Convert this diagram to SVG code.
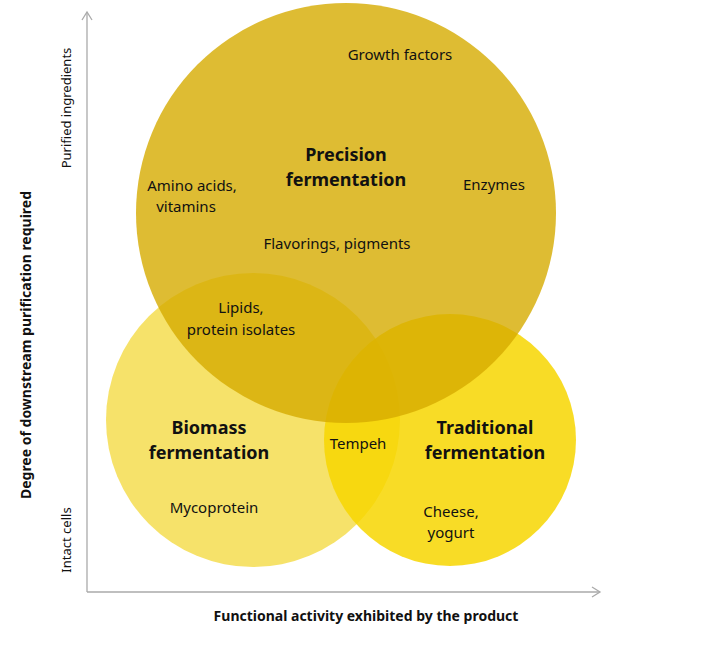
<svg xmlns="http://www.w3.org/2000/svg" width="714" height="658" viewBox="0 0 714 658">
<style>
text{font-family:"Noto Sans","Liberation Sans",sans-serif;fill:#111;text-anchor:middle}
.s{font-size:15px}
.b{font-size:18px;font-weight:bold}
.ax{font-size:14px;font-weight:bold}
.al{font-size:13px}
</style>
<defs><marker id="ar" markerWidth="12" markerHeight="12" refX="9" refY="6" orient="auto" markerUnits="userSpaceOnUse"><path d="M1,1 L9,6 L1,11" fill="none" stroke="#aaa" stroke-width="1.3"/></marker></defs>
<rect width="714" height="658" fill="#fff"/>
<g id="connectors" stroke="#aaa" stroke-width="1.3" fill="none">
<path d="M87,592 V12" marker-end="url(#ar)"/>
<path d="M87,592 H600" marker-end="url(#ar)"/>
</g>
<g id="biomass"><circle cx="253" cy="420" r="147" fill="#f5df5a" opacity="0.9"/></g>
<g id="traditional"><circle cx="450" cy="440" r="126" fill="#f7d600" opacity="0.85"/></g>
<g id="precision"><circle cx="346" cy="213" r="210" fill="#d6ab00" opacity="0.8"/></g>
<g id="labels">
<text class="b" x="346" y="161">Precision</text>
<text class="b" x="346" y="186">fermentation</text>
<text class="s" x="400" y="60">Growth factors</text>
<text class="s" x="192" y="191">Amino acids,</text>
<text class="s" x="186" y="212">vitamins</text>
<text class="s" x="494" y="190">Enzymes</text>
<text class="s" x="337" y="249">Flavorings, pigments</text>
<text class="s" x="241" y="313">Lipids,</text>
<text class="s" x="241" y="335">protein isolates</text>
<text class="b" x="209" y="434">Biomass</text>
<text class="b" x="209" y="459">fermentation</text>
<text class="s" x="214" y="513">Mycoprotein</text>
<text class="s" x="358" y="449">Tempeh</text>
<text class="b" x="485" y="434">Traditional</text>
<text class="b" x="485" y="459">fermentation</text>
<text class="s" x="451" y="517">Cheese,</text>
<text class="s" x="451" y="538">yogurt</text>
<text class="ax" x="366" y="621">Functional activity exhibited by the product</text>
<text class="ax" transform="translate(31,345) rotate(-90)">Degree of downstream purification required</text>
<text class="al" transform="translate(71,108) rotate(-90)">Purified ingredients</text>
<text class="al" transform="translate(71,540) rotate(-90)">Intact cells</text>
</g>
</svg>
